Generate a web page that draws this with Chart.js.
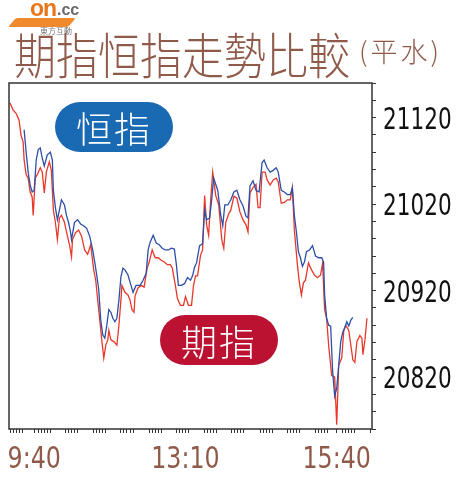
<!DOCTYPE html>
<html>
<head>
<meta charset="utf-8">
<script src="https://cdn.jsdelivr.net/npm/chart.js@4/dist/chart.umd.min.js"></script>
<style>
  html, body { margin: 0; padding: 0; background: #fff; }
  #wrap { position: relative; width: 474px; height: 477px; overflow: hidden; }
  #cchart { position: absolute; left: 0; top: 0; }
  .logo { position: absolute; left: 4px; top: 0px; width: 80px; height: 36px; }
  .swoosh { position: absolute; left: 8px; top: 18px; width: 60px; height: 9px; background: #f08a2c;
            transform: skewX(-40deg); border-radius: 2px; }
  .on { position: absolute; left: 26px; top: -5px; font: bold 23px 'Liberation Sans', Arial, sans-serif; color: #e8761a; letter-spacing: -1px; }
  .cc { position: absolute; left: 53px; top: 1px; font: bold 16px 'Liberation Sans', Arial, sans-serif; color: #6a6a6a; }
  .sub { position: absolute; left: 36px; top: 25px; font: 8px 'Noto Sans CJK TC', sans-serif; color: #777; }
  .title { position: absolute; left: 14px; top: 18px; font: 300 42px 'Noto Sans CJK TC', sans-serif; color: #905a4a;
           transform: scaleY(1.15); transform-origin: 0 0; white-space: nowrap; }
  .unit { position: absolute; left: 359px; top: 31px; font: 300 27px 'Noto Sans CJK TC', sans-serif; color: #905a4a; letter-spacing: 3px; }
  .pill { position: absolute; width: 118px; height: 50px; border-radius: 25px; color: #fff; text-align: center;
          font: 300 36px/50px 'Noto Sans CJK TC', sans-serif; letter-spacing: 2px; }
</style>
</head>
<body>
<div id="wrap">
  <canvas id="cchart" width="474" height="477"></canvas>
  <div class="logo"><div class="swoosh"></div><span class="on">on</span><span class="cc">.cc</span><span class="sub">東方互動</span></div>
  <div class="title">期指恒指走勢比較</div>
  <div class="unit">(平水)</div>
  <div class="pill" style="left:55px; top:102px; background:#1a69b3;">恒指</div>
  <div class="pill" style="left:160px; top:315px; background:#ba1230;">期指</div>
</div>
<script>
// trading minutes from 9:15 (lunch 12:00-13:00 removed)
const futMin = [1,4,7,10,12,14,15,17,19,21,23,24,26,28,31,33,35,37,40,42,44,46,48,50,52,55,57,60,62,63,66,69,72,75,78,81,84,86,88,90,92,94,96,98,99,101,104,107,109,111,112,115,118,120,122,124,125,128,131,134,137,139,142,145,148,151,154,157,160,162,165,167,170,173,175,178,181,183,185,187,190,192,194,196,198,200,202,205,208,211,213,215,218,220,223,226,229,232,235,237,239,242,245,247,249,251,254,256,259,262,265,267,270,273,276,279,281,283,286,288,290,292,294,297,300,303,306,309,311,313,315,317,320,323,325,327,330,332,334,337,339,341,343,345,348,350,351,353,355];
const futVal = [21137,21129,21125,21117,21099,21092,21071,21054,21050,21034,21028,21007,21050,21054,21062,21057,21033,21057,21069,21059,21013,20999,20979,21004,21007,20999,20988,20973,20959,20979,20987,20990,20983,20967,20962,20973,20944,20932,20909,20886,20863,20842,20857,20863,20874,20863,20861,20857,20880,20909,20926,20918,20915,20909,20898,20895,20914,20923,20926,20924,20946,20953,20967,20958,20958,20955,20953,20950,20950,20946,20926,20911,20903,20903,20913,20903,20903,20926,20937,20937,20961,20967,21030,20996,20984,21025,21057,21030,21019,20979,20969,20999,21009,21013,21029,21027,21011,21002,20996,20988,21033,21039,21043,21016,21016,21057,21057,21048,21042,21048,21050,21046,21021,21022,21025,21025,21039,20990,20950,20929,20915,20929,20932,20952,20944,20938,20935,20938,20952,20898,20888,20857,20822,20820,20765,20834,20842,20874,20880,20874,20857,20840,20837,20861,20868,20865,20846,20863,20888];
const hsiMin = [15,17,19,21,23,25,27,29,31,33,35,38,41,43,44,46,48,50,52,55,57,59,61,62,65,68,71,74,77,80,83,85,87,89,91,93,95,97,99,101,103,105,107,109,111,113,115,118,121,123,126,130,133,136,138,140,143,146,149,152,155,158,161,164,166,168,171,174,177,180,182,184,186,189,192,194,196,199,201,203,205,207,210,212,214,217,220,223,226,229,232,235,237,239,242,245,248,251,253,256,259,262,265,267,270,273,276,279,281,283,285,287,289,291,293,295,298,301,304,307,310,312,313,315,317,319,321,323,325,327,329,331,333,335,337,339,341];
const hsiVal = [21106,21080,21057,21042,21034,21036,21071,21083,21085,21073,21064,21077,21080,21071,21036,21016,21002,21013,21025,21019,21007,20999,20988,20979,20999,21002,20997,20995,20992,20983,20967,20953,20938,20921,20886,20869,20865,20880,20898,20895,20888,20884,20888,20909,20936,20946,20944,20938,20926,20918,20926,20926,20932,20940,20967,20976,20984,20975,20973,20969,20967,20967,20969,20968,20950,20926,20926,20928,20935,20932,20937,20947,20952,20972,20974,21013,21002,21004,21025,21050,21043,21036,21007,20995,21019,21019,21025,21034,21036,21025,21018,21006,21004,21041,21047,21036,21034,21068,21071,21062,21057,21059,21062,21057,21036,21034,21031,21031,21039,21007,20988,20965,20958,20948,20953,20965,20967,20972,20960,20958,20958,20953,20915,20888,20880,20879,20826,20798,20807,20834,20861,20872,20877,20884,20879,20886,20889];

const xTickMin = [25, 175, 325];
const xTickLabels = ['9:40', '13:10', '15:40'];
const yTickLabels = [21120, 21020, 20920, 20820];

const toPts = (xs, ys) => xs.map((m, i) => ({ x: m, y: ys[i] }));
const labelFont = "30px 'DejaVu Sans Condensed', 'DejaVu Sans', sans-serif";

// box round the plot area, plus the narrow tick labels
const frame = {
  id: 'frame',
  afterDraw(c) {
    const a = c.chartArea, g = c.ctx;
    g.save();
    g.strokeStyle = '#333';
    g.lineWidth = 1.5;
    g.strokeRect(a.left, a.top, a.right - a.left, a.bottom - a.top);

    g.font = labelFont;
    g.textBaseline = 'alphabetic';
    g.fillStyle = '#111';
    g.textAlign = 'left';
    yTickLabels.forEach((v) => {
      const py = c.scales.y.getPixelForValue(v);
      g.save();
      g.translate(a.right + 11, py + 11);
      g.scale(0.8, 1);
      g.fillText(String(v), 0, 0);
      g.restore();
    });
    g.fillStyle = '#905a4a';
    g.textAlign = 'center';
    xTickMin.forEach((m, i) => {
      const px = c.scales.x.getPixelForValue(m);
      g.save();
      g.translate(px, a.bottom + 39);
      g.scale(0.88, 1);
      g.fillText(xTickLabels[i], 0, 0);
      g.restore();
    });
    g.restore();
  },
};

const ctx = document.getElementById('cchart');
new Chart(ctx, {
  type: 'line',
  data: {
    datasets: [
      { label: '恒指', data: toPts(hsiMin, hsiVal), borderColor: '#2d4fa8', borderWidth: 1.3, order: 0 },
      { label: '期指', data: toPts(futMin, futVal), borderColor: '#e8382a', borderWidth: 1.3, order: 1 },
    ],
  },
  options: {
    responsive: false,
    animation: false,
    layout: { padding: { left: 9, top: 83, right: 0, bottom: 0 } },
    elements: { point: { radius: 0 }, line: { tension: 0 } },
    plugins: { legend: { display: false }, tooltip: { enabled: false } },
    scales: {
      x: {
        type: 'linear',
        min: 0,
        max: 360,
        afterBuildTicks: (s) => {
          const t = [];
          for (let c = 1; c < 360; c += 27.5) {
            for (let k = 0; k < 5; k++) t.push(Math.round(c + k * 3));
          }
          xTickMin.forEach((m) => t.push(m));
          s.ticks = [...new Set(t)].filter((v) => v <= 360).sort((a, b) => a - b).map((v) => ({ value: v }));
        },
        afterFit: (s) => { s.height = 48; },
        ticks: { autoSkip: false, maxRotation: 0, callback: () => '' },
        grid: { drawOnChartArea: false, drawTicks: true, tickLength: 4, color: '#333', lineWidth: 1 },
        border: { display: false },
      },
      y: {
        position: 'right',
        min: 20760,
        max: 21160,
        afterFit: (s) => { s.width = 102; },
        ticks: { stepSize: 20, autoSkip: false, callback: () => '' },
        grid: { drawOnChartArea: false, drawTicks: true, tickLength: 4, color: '#333', lineWidth: 1 },
        border: { display: false },
      },
    },
  },
  plugins: [frame],
});
</script>
</body>
</html>
